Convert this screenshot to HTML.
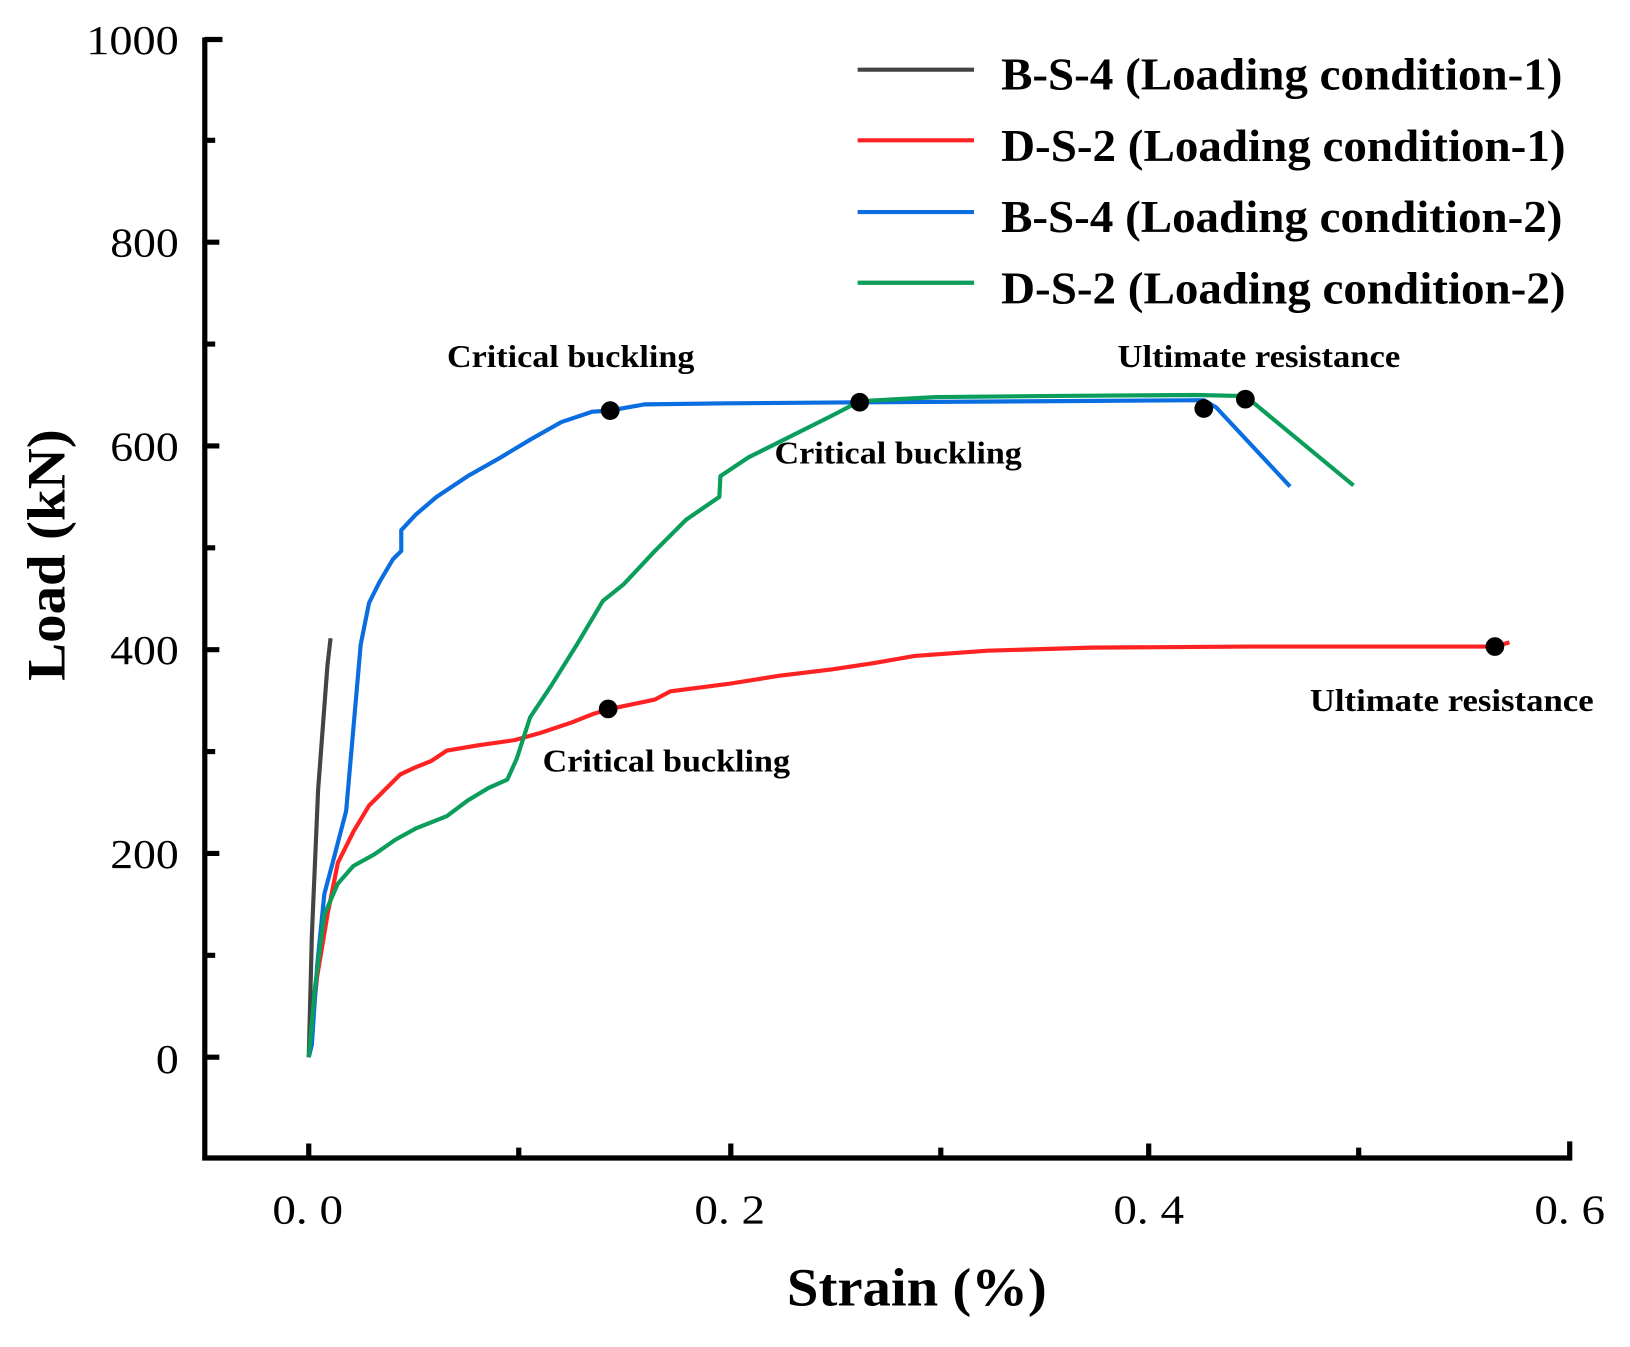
<!DOCTYPE html>
<html><head><meta charset="utf-8"><style>html,body{margin:0;padding:0;background:#fff}</style></head>
<body>
<svg width="1630" height="1342" viewBox="0 0 1568 1291" preserveAspectRatio="none" xmlns="http://www.w3.org/2000/svg" font-family="'Liberation Serif', serif">
<rect width="1568" height="1291" fill="#fff"/>
<g stroke="#000" stroke-width="5" fill="none">
<path d="M197,36 V1114 H1510 V1098"/>
<path d="M197,1017 h14 M197,919 h10 M197,821 h14 M197,723 h10 M197,625 h14 M197,527 h10 M197,429 h14 M197,331 h10 M197,233 h14 M197,135 h10 M197,38 h17"/>
<path d="M297,1114 v-14 M499,1114 v-10 M703,1114 v-14 M905,1114 v-10 M1105,1114 v-14 M1307,1114 v-10"/>
</g>
<g font-size="40">
<text x="150" y="1032" textLength="22" lengthAdjust="spacingAndGlyphs">0</text>
<text x="106" y="835" textLength="66" lengthAdjust="spacingAndGlyphs">200</text>
<text x="106" y="639" textLength="66" lengthAdjust="spacingAndGlyphs">400</text>
<text x="106" y="443" textLength="66" lengthAdjust="spacingAndGlyphs">600</text>
<text x="106" y="247" textLength="66" lengthAdjust="spacingAndGlyphs">800</text>
<text x="83" y="52" textLength="89" lengthAdjust="spacingAndGlyphs">1000</text>
</g>
<g font-size="40">
<text x="262" y="1177" textLength="68" lengthAdjust="spacingAndGlyphs">0. 0</text>
<text x="668" y="1177" textLength="68" lengthAdjust="spacingAndGlyphs">0. 2</text>
<text x="1071" y="1177" textLength="68" lengthAdjust="spacingAndGlyphs">0. 4</text>
<text x="1476" y="1177" textLength="68" lengthAdjust="spacingAndGlyphs">0. 6</text>
</g>
<text x="757" y="1256" font-size="52" font-weight="bold" textLength="250" lengthAdjust="spacingAndGlyphs">Strain (%)</text>
<text transform="translate(62,655) rotate(-90)" font-size="52" font-weight="bold" textLength="242" lengthAdjust="spacingAndGlyphs">Load (kN)</text>
<g stroke-width="4" fill="none" stroke-linejoin="round">
<polyline stroke="#444" points="297,1017 300,900 306,760 312,680 315,640 318,614"/>
<polyline stroke="#f22" points="297,1017 305,940 315,880 325,830 340,800 355,775 370,760 385,745 400,738 415,732 430,722 460,717 495,712 520,705 550,695 570,687 587,682 630,673 645,665 700,658 750,650 800,644 840,638 880,631 950,626 1050,623 1200,622 1438,622 1452,618"/>
<polyline stroke="#0a6ee0" points="297,1017 300,1005 305,930 312,860 320,830 333,780 340,700 347,620 355,580 365,560 378,538 386,530 386,510 400,495 420,478 450,458 480,441 510,423 540,406 570,396 587,395 620,389 700,388 827,387 1000,386 1158,385 1170,392 1241,468"/>
<polyline stroke="#0a9e5a" points="297,1017 303,950 312,880 325,850 340,833 360,822 380,808 400,797 430,785 450,770 470,758 488,750 497,730 510,690 530,660 555,620 580,578 600,562 630,530 660,500 692,478 693,458 720,440 760,420 800,400 827,386 900,382 1000,381 1150,380 1198,381 1302,467"/>
</g>
<g fill="#000">
<circle cx="587" cy="395" r="9"/><circle cx="827" cy="387" r="9"/><circle cx="1158" cy="393" r="9"/><circle cx="1198" cy="384" r="9"/><circle cx="585" cy="682" r="9"/><circle cx="1438" cy="622" r="9"/>
</g>
<g font-size="30" font-weight="bold">
<text x="430" y="353" textLength="238" lengthAdjust="spacingAndGlyphs">Critical buckling</text>
<text x="745" y="446" textLength="238" lengthAdjust="spacingAndGlyphs">Critical buckling</text>
<text x="522" y="742" textLength="238" lengthAdjust="spacingAndGlyphs">Critical buckling</text>
<text x="1075" y="353" textLength="272" lengthAdjust="spacingAndGlyphs">Ultimate resistance</text>
<text x="1260" y="684" textLength="273" lengthAdjust="spacingAndGlyphs">Ultimate resistance</text>
</g>
<g stroke-width="4">
<line x1="825" y1="67" x2="937" y2="67" stroke="#444"/>
<line x1="825" y1="135" x2="937" y2="135" stroke="#f22"/>
<line x1="825" y1="204" x2="937" y2="204" stroke="#0a6ee0"/>
<line x1="825" y1="272" x2="937" y2="272" stroke="#0a9e5a"/>
</g>
<g font-size="44" font-weight="bold">
<text x="963" y="86" textLength="540" lengthAdjust="spacingAndGlyphs">B-S-4 (Loading condition-1)</text>
<text x="963" y="155" textLength="543" lengthAdjust="spacingAndGlyphs">D-S-2 (Loading condition-1)</text>
<text x="963" y="223" textLength="540" lengthAdjust="spacingAndGlyphs">B-S-4 (Loading condition-2)</text>
<text x="963" y="292" textLength="543" lengthAdjust="spacingAndGlyphs">D-S-2 (Loading condition-2)</text>
</g>
</svg>
</body></html>
